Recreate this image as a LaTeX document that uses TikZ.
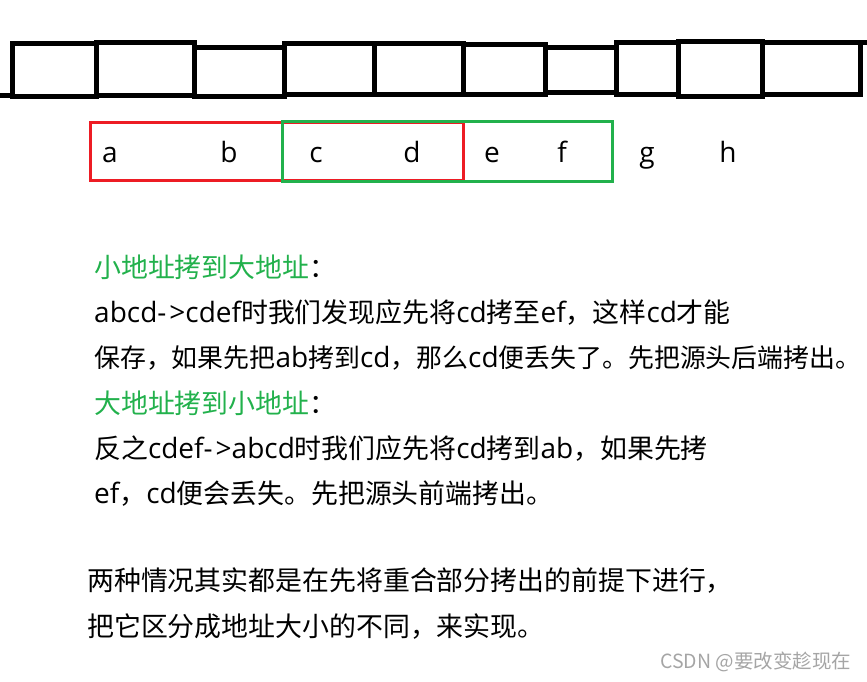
\documentclass[tikz,border=0pt]{standalone}
\usepackage{fontspec}
\usepackage{tikz}
\usepackage{xcolor}
\newfontfamily\cjk{Noto Sans CJK SC}
\newfontfamily\latin{Open Sans}
\newcommand\en[1]{{\latin\fontsize{28}{30}\selectfont #1}}
\definecolor{paintred}{RGB}{237,28,36}
\definecolor{paintgreen}{RGB}{34,177,76}
\definecolor{markgray}{RGB}{165,165,165}
\tikzset{cell/.style={line width=5pt},
 memline/.style={line width=3pt},
 txt/.style={anchor=base west,inner sep=0pt,font=\cjk\fontsize{26.9}{30}\selectfont},
 letter/.style={anchor=base,inner sep=0pt,font=\latin\fontsize{28}{30}\selectfont},
 wmark/.style={anchor=base west,inner sep=0pt,text=markgray,font=\cjk\fontsize{19.5}{22}\selectfont},
 }

\begin{document}
\begin{tikzpicture}[x=1pt,y=-1pt]
        \useasboundingbox (0,0) rectangle (867,682);
        % memory cells
        \draw[cell] (0,96) -- (12,96);
        \draw[cell] (12,43.5) rectangle (96,96.5);
        \draw[cell] (96,43) rectangle (194,96);
        \draw[cell] (194,47.5) rectangle (284,96.5);
        \draw[cell] (284,44) rectangle (374,95);
        \draw[cell] (374,44) rectangle (463,95);
        \draw[cell] (463,44.5) rectangle (545,95);
        \draw[cell] (545,47.5) rectangle (616,93);
        \draw[cell] (616,43) rectangle (678,95);
        \draw[cell] (678,42) rectangle (762,96.5);
        \draw[cell] (762,42.5) rectangle (860,95);
        \draw[cell] (860,42.5) -- (867,42.5);
        % data
        \node[letter] (la) at (110,162) {a};
        \node[letter] (lb) at (229,162) {b};
        \node[letter] (lc) at (316,162) {c};
        \node[letter] (ld) at (412,162) {d};
        \node[letter] (le) at (492,162) {e};
        \node[letter] (lf) at (562,162) {f};
        \node[letter] (lg) at (647,162) {g};
        \node[letter] (lh) at (728,162) {h};
        \draw[memline, paintred] (90,122.5) rectangle (463,180.5);
        \draw[memline, paintgreen] (282,121.5) rectangle (612,181);
        % notes
        \node[txt] (small) at (94,277) {\textcolor{paintgreen}{小地址拷到大地址}：};
        \node[txt] (s1) at (94,322) {\en{abcd-\kern3pt>cdef}时我们发现应先将\en{cd}拷至\en{ef}，这样\en{cd}才能};
        \node[txt, font=\cjk\fontsize{25.9}{30}\selectfont] (s2) at (94,367) {保存，如果先把\en{ab}拷到\en{cd}，那么\en{cd}便丢失了。先把源头后端拷出。};
        \node[txt] (big) at (94,413) {\textcolor{paintgreen}{大地址拷到小地址}：};
        \node[txt] (b1) at (94,458) {反之\en{cdef-\kern3pt>abcd}时我们应先将\en{cd}拷到\en{ab}，如果先拷};
        \node[txt] (b2) at (94,503) {\en{ef}，\en{cd}便会丢失。先把源头前端拷出。};
        \node[txt] (sum1) at (87,590) {两种情况其实都是在先将重合部分拷出的前提下进行，};
        \node[txt] (sum2) at (87,636) {把它区分成地址大小的不同，来实现。};
        \node[wmark] (csdn) at (660,668) {CSDN @要改变趁现在};
    \end{tikzpicture}
\end{document}
